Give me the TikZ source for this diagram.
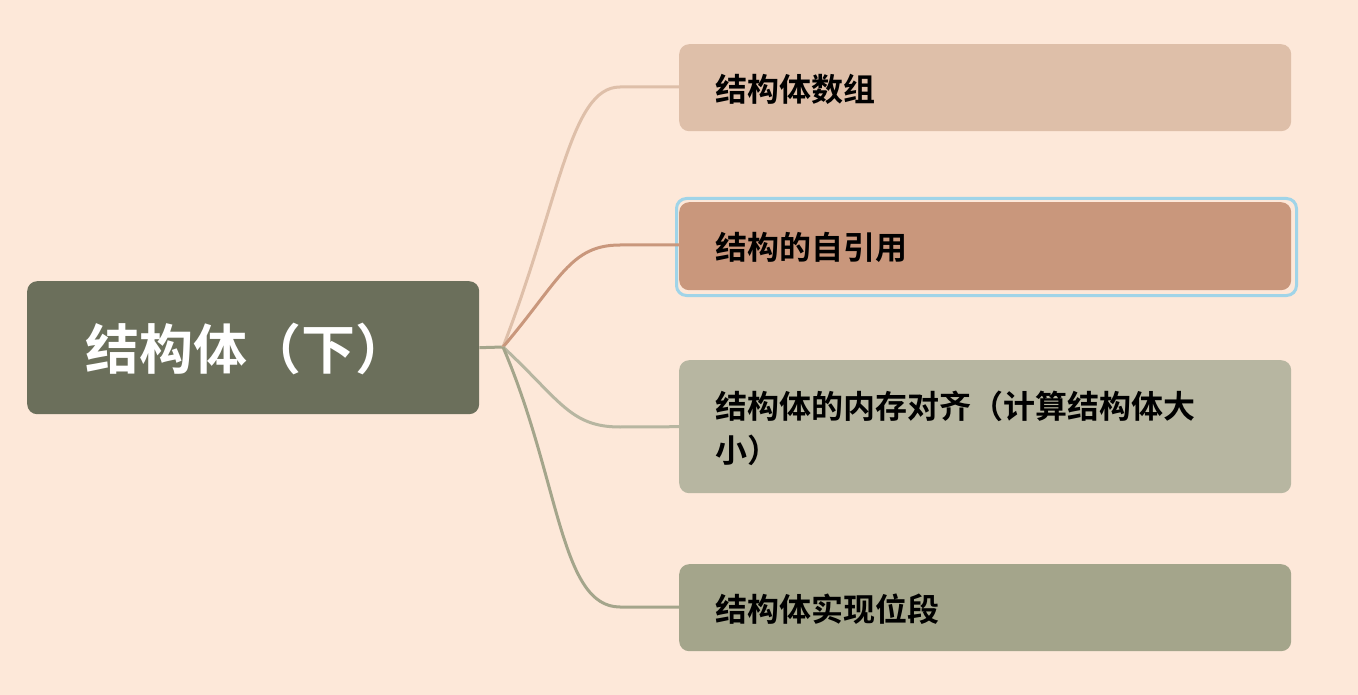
\documentclass[tikz,border=0pt]{standalone}
\usepackage{fontspec}
\newfontfamily\cjk{Noto Sans CJK SC Bold}
\definecolor{bg}{HTML}{FDE8D9}
\definecolor{rootc}{HTML}{6B6F5B}
\definecolor{c1}{HTML}{DEBFA9}
\definecolor{c2}{HTML}{C9977C}
\definecolor{c3}{HTML}{B7B6A1}
\definecolor{c4}{HTML}{A4A58B}
\definecolor{sel}{HTML}{A0D4E8}
\begin{document}
\begin{tikzpicture}[x=1pt,y=-1pt,
  box/.style={rounded corners=10pt,inner sep=0pt,anchor=north west},
  lbl/.style={font=\cjk\fontsize{32}{44}\selectfont,anchor=west,align=left,inner sep=0pt},
  conn/.style={line width=3pt}]
\fill[bg] (0,0) rectangle (1358,695);
\useasboundingbox (0,0) rectangle (1358,695);
\node[box,fill=rootc,minimum width=452pt,minimum height=133pt] (root) at (27,281) {};
\node[anchor=west,inner sep=0pt,text=white,font=\cjk\fontsize{54}{60}\selectfont] (roott) at (85,349) {结构体（下）};
\node[box,draw=sel,line width=3pt,minimum width=620pt,minimum height=97pt] (selb) at (675,197) {};
\node[box,fill=c1,minimum width=612pt,minimum height=87pt] (b1) at (679,44) {};
\node[box,fill=c2,minimum width=612pt,minimum height=88pt] (b2) at (679,202) {};
\node[box,fill=c3,minimum width=612pt,minimum height=133pt] (b3) at (679,360) {};
\node[box,fill=c4,minimum width=612pt,minimum height=87pt] (b4) at (679,564) {};
\node[lbl] (t1) at (715,89) {结构体数组};
\node[lbl] (t2) at (715,247) {结构的自引用};
\node[lbl] (t3) at (715,428) {结构体的内存对齐（计算结构体大\\小）};
\node[lbl] (t4) at (715,609) {结构体实现位段};
\coordinate (hub) at (503,347);
\draw[conn,color=c4] (root.east) -- (hub);
\draw[conn,color=c1] (hub) .. controls (560,200) and (570,87) .. (620,87) -- (b1.west|-0,87);
\draw[conn,color=c2] (hub) .. controls (560,280) and (570,245) .. (620,245) -- (b2.west|-0,245);
\draw[conn,color=c3] (hub) .. controls (560,400) and (570,427) .. (620,427) -- (b3.west);
\draw[conn,color=c4] (hub) .. controls (560,480) and (560,607) .. (620,607) -- (b4.west|-0,607);
\end{tikzpicture}
\end{document}
